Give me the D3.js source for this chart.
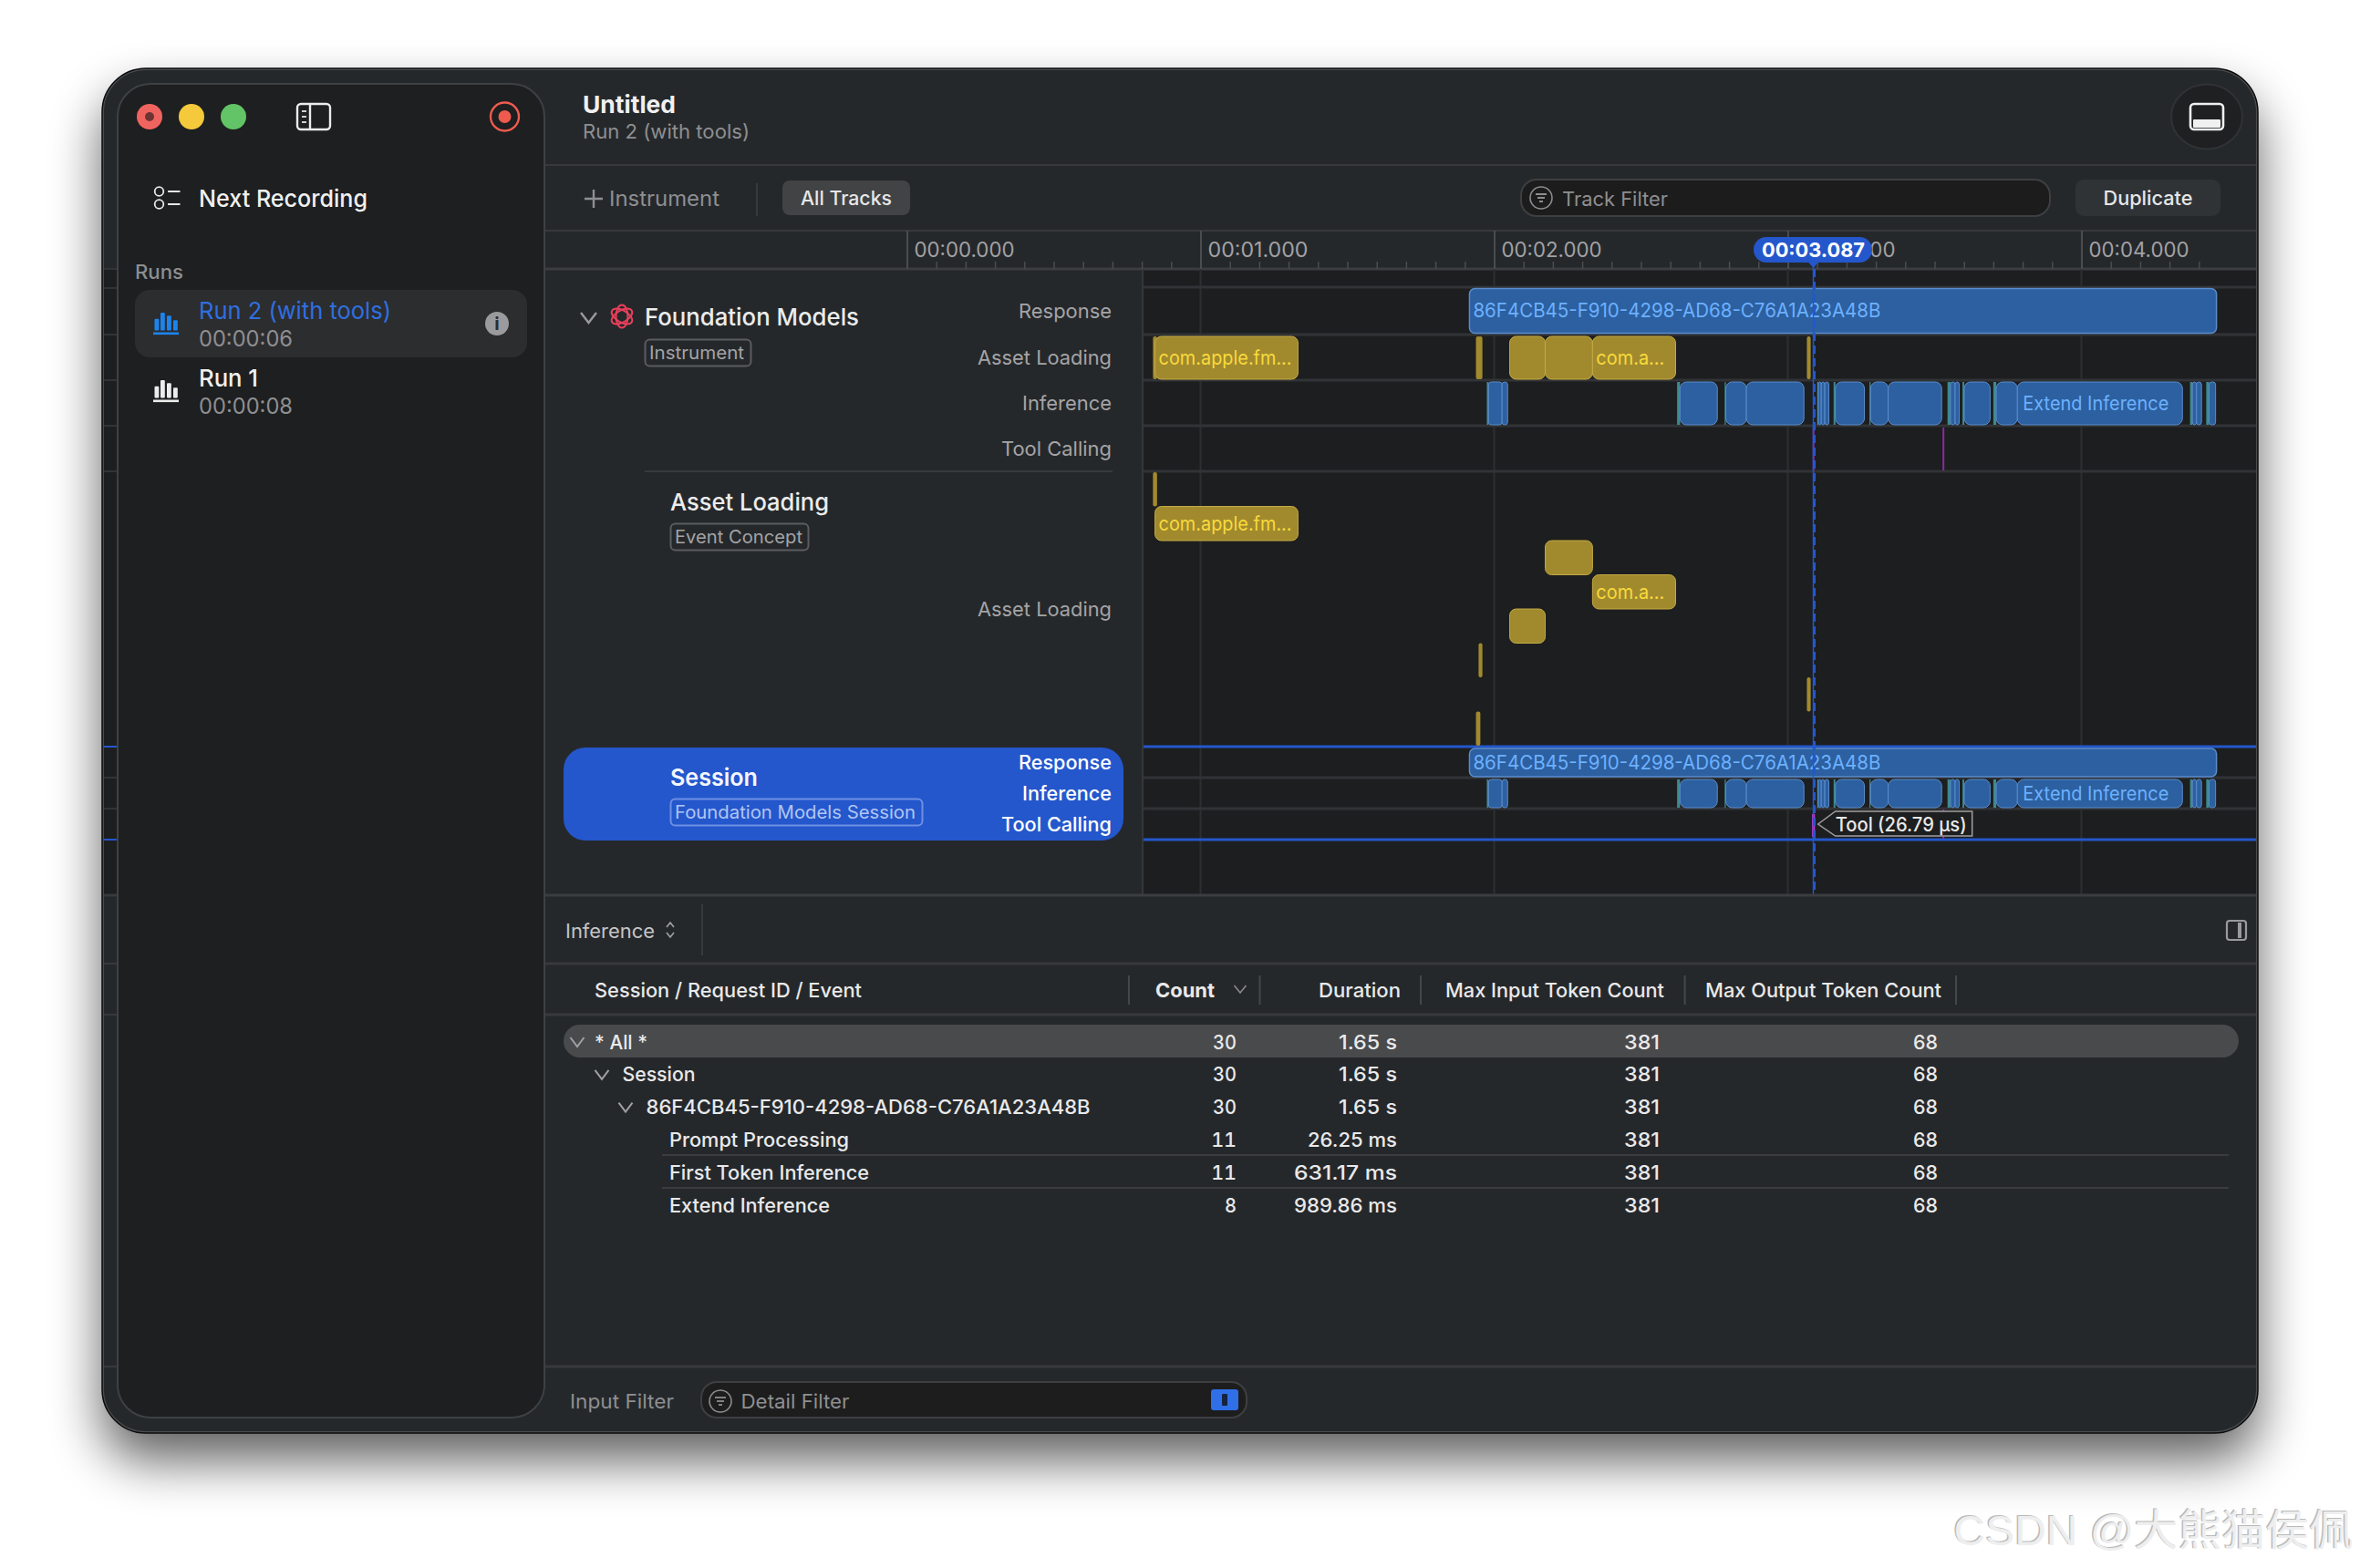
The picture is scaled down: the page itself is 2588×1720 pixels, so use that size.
<!DOCTYPE html>
<html><head><meta charset="utf-8">
<style>html,body{margin:0;padding:0;background:#fff}svg{display:block}text{font-family:Inter,"Noto Sans",sans-serif}</style>
<script src="https://cdn.jsdelivr.net/npm/d3@7"></script></head><body><div id="c"></div>
<script>
// ---------- DATA ----------
const majorSeconds = [0,1,2,3,4];
const minorSeconds = [.1,.2,.3,.4,.5,.6,.7,.8,.9,1.1,1.2,1.3,1.4,1.5,1.6,1.7,1.8,1.9,2.1,2.2,2.3,2.4,2.5,2.6,2.7,2.8,2.9,3.1,3.2,3.3,3.4,3.5,3.6,3.7,3.8,3.9,4.1,4.2,4.3,4.4];
const playheadTime = 3.087;
const playheadLabel = "00:03.087";
const responseSpan = [1.916, 4.460];
const responseLabel = "86F4CB45-F910-4298-AD68-C76A1A23A48B";
// asset loading: start, end, lane in the expanded track, label
const assetStart = [0.838, 0.845, 1.947, 2.053, 2.174, 2.335, 3.065, 1.938];
const assetEnd   = [0.852, 1.332, 1.960, 2.174, 2.335, 2.618, 3.078, 1.953];
const assetLane  = [0, 1, 5, 4, 2, 3, 6, 7];
const assetText  = ["", "com.apple.fm...", "", "", "", "com.a...", "", ""];
// inference events: start, end, kind
const infStart = [1.975,1.981,2.027,2.623,2.633,2.785,2.789,2.859,3.100,3.104,3.114,3.126,3.156,3.162,3.278,3.282,3.342,3.544,3.554,3.570,3.595,3.601,3.700,3.710,3.782,4.370,4.378,4.392,4.425,4.435];
const infEnd   = [1.981,2.027,2.046,2.633,2.760,2.789,2.859,3.055,3.104,3.114,3.126,3.140,3.162,3.261,3.282,3.342,3.524,3.554,3.570,3.584,3.601,3.689,3.710,3.782,4.344,4.378,4.392,4.409,4.435,4.457];
const infKind  = ["p","f","e","p","f","p","f","e","p","f","e","e","p","f","p","f","e","p","f","e","p","f","p","f","e","p","f","e","p","f"];
const extendLabelIndex = 24;
const extendLabel = "Extend Inference";
const toolCalls = [3.0875, 3.530];
const toolTip = "Tool (26.79 µs)";
// table
const tableNames = ["* All *","Session","86F4CB45-F910-4298-AD68-C76A1A23A48B","Prompt Processing","First Token Inference","Extend Inference"];
const tableDepth = [0,1,2,3,3,3];
const tableCount = [30,30,30,11,11,8];
const tableDuration = ["1.65 s","1.65 s","1.65 s","26.25 ms","631.17 ms","989.86 ms"];
const tableInput = [381,381,381,381,381,381];
const tableOutput = [68,68,68,68,68,68];

// ---------- SCALES ----------
const x = d3.scaleLinear().domain([0,4]).range([994.5,2282.5]);
const laneY = d3.scaleLinear().domain([0,8]).range([518,818]);
const rowY = d3.scaleLinear().domain([0,5]).range([1143,1322]);

// ---------- STYLE ----------
const nameWidth = [58,80,487,197,219,176];
const countWidth = [26,26,26,0,0,13];
const durationWidth = [64,64,64,98,113,113];
const C = {win:"#25282b",side:"#1d1f20",track:"#1d1e1f",line:"#37393c",grid:"#2c2e30",blue:"#2457cc",bar:"#2c60a0",barS:"#5b8ccb",barT:"#6db0ff",teal:"#3d8a8f",gold:"#a18a2e",goldS:"#c4aa45",goldT:"#f8d93c",gray:"#9c9c9e",text:"#e9e9ea"};

const svg = d3.select("#c").append("svg").attr("width",2588).attr("height",1720).attr("viewBox","0 0 2588 1720");
const defs = svg.append("defs");
const blur = defs.append("filter").attr("id","sh").attr("filterUnits","userSpaceOnUse").attr("x",0).attr("y",0).attr("width",2588).attr("height",1720);
blur.append("feGaussianBlur").attr("stdDeviation",28);
defs.append("clipPath").attr("id","wclip").append("rect").attr("x",112).attr("y",75).attr("width",2364).attr("height",1497).attr("rx",48);
defs.append("clipPath").attr("id","rclip").append("rect").attr("x",1253).attr("y",295).attr("width",1223).attr("height",687);

function T(g,s,px,py,o={}){
  const t=g.append("text").attr("x",px).attr("y",py).attr("dy",(o.size||22)*0.35).text(s)
    .attr("font-size",o.size||22).attr("font-weight",o.weight||400).attr("fill",o.fill||C.text);
  if(o.anchor)t.attr("text-anchor",o.anchor);
  if(o.w)t.attr("textLength",o.w).attr("lengthAdjust","spacingAndGlyphs");
  if(o.family)t.attr("style","font-family:"+o.family);
  return t;
}
function R(g,px,py,w,h,rx,fill,stroke,sw){
  return g.append("rect").attr("x",px).attr("y",py).attr("width",w).attr("height",h).attr("rx",rx||0)
    .attr("fill",fill||"none").attr("stroke",stroke||"none").attr("stroke-width",sw||0);
}
function H(g,x1,x2,py,col,sw){g.append("line").attr("x1",x1).attr("x2",x2).attr("y1",py).attr("y2",py).attr("stroke",col||C.line).attr("stroke-width",sw||2);}
function V(g,px,y1,y2,col,sw){g.append("line").attr("x1",px).attr("x2",px).attr("y1",y1).attr("y2",y2).attr("stroke",col||C.line).attr("stroke-width",sw||2);}
function chevron(g,cx,cy,w,h,col,sw){g.append("path").attr("d",`M${cx-w/2},${cy-h/2}L${cx},${cy+h/2}L${cx+w/2},${cy-h/2}`).attr("fill","none").attr("stroke",col).attr("stroke-width",sw||2);}
function filterIcon(g,cx,cy){
  g.append("circle").attr("cx",cx).attr("cy",cy).attr("r",12).attr("fill","none").attr("stroke","#8d8d8f").attr("stroke-width",1.6);
  [[6,-4],[4,0],[2,4]].forEach(d=>H(g,cx-d[0],cx+d[0],cy+d[1],"#8d8d8f",1.8));
}
function barsIcon(g,px,py,col){
  [[1.5,6.7],[8,0],[15,3.3],[22,8.3]].forEach(b=>R(g,px+b[0],py+b[1],4.8,19.5-b[1],1,col));
  R(g,px,py+21.5,28,2.6,0,col);
}

// ---------- WINDOW ----------
R(svg,112,75,2364,1497,48,"#000").attr("opacity",.62).attr("transform","translate(0,30)").attr("filter","url(#sh)");
const win = svg.append("g").attr("clip-path","url(#wclip)");
R(win,112,75,2364,1497,0,C.win);

// left glass strip behind the sidebar
R(win,112,295,1141,687,0,C.track);
[295,316,367,417,467,517,853,887].forEach(y=>H(win,112,132,y,"#313336",2));
[819,921].forEach(y=>H(win,112,132,y,C.blue,2));
H(win,112,132,982,C.line,3);
[1057,1113,1499].forEach(y=>H(win,112,132,y,C.line,2));

// main panels
R(win,597,295,656,687,0,C.win);
R(win,1253,295,1223,687,0,C.track);
[181,253].forEach(y=>H(win,597,2476,y));
H(win,597,2476,295,"#3b3d40",3);

// ---------- HEADER ----------
T(win,"Untitled",639,115,{size:26,weight:700,w:102,fill:"#f0f0f0"});
T(win,"Run 2 (with tools)",639,144,{size:22,fill:"#8e8f91",w:183});
win.append("ellipse").attr("cx",2420).attr("cy",128).attr("rx",39).attr("ry",35.5).attr("fill","#1e2022").attr("stroke","#303235").attr("stroke-width",2);
R(win,2402,114,36,28,4,"none","#f0f0f0",2.6);
R(win,2405,131,30,9,1,"#f0f0f0");

// toolbar
H(win,641,661,218,"#8e8f91",2.4); V(win,651,208,228,"#8e8f91",2.4);
T(win,"Instrument",668,218,{size:22.5,fill:"#8e8f91",w:121});
V(win,830,201,237,"#37393c",2);
R(win,858,198,140,38,8,"#414345");
T(win,"All Tracks",928,217.5,{size:21,anchor:"middle",w:100,fill:"#e6e6e6",weight:500});
R(win,1668,197,580,40,17,"#1c1c1d","#3e3f41",2);
filterIcon(win,1690,217);
T(win,"Track Filter",1713,218,{size:21.5,fill:"#8e8f91",w:116});
R(win,2276,197,159,40,9,"#303336");
T(win,"Duplicate",2355.5,217,{size:21.5,anchor:"middle",w:98,fill:"#e6e6e6",weight:500});

// ---------- TIME RULER (d3 axes) ----------
const ruler = win.append("g").attr("transform","translate(0,253)")
  .call(d3.axisBottom(x).tickValues(majorSeconds).tickSize(42).tickFormat(d=>`00:0${d}.000`));
ruler.select(".domain").remove();
ruler.selectAll(".tick line").attr("stroke","#4a4c4f").attr("stroke-width",2);
ruler.selectAll(".tick text").attr("x",7.5).attr("y",21).attr("dy",".35em").attr("text-anchor","start")
  .attr("fill","#a2a2a4").attr("font-size",22.5).attr("textLength",110).attr("lengthAdjust","spacingAndGlyphs").style("font-family","Inter");
const minor = win.append("g").attr("transform","translate(0,295)")
  .call(d3.axisTop(x).tickValues(minorSeconds).tickSize(8).tickFormat(""));
minor.select(".domain").remove();
minor.selectAll(".tick line").attr("stroke","#4a4c4f").attr("stroke-width",1.5);

// ---------- TRACKS ----------
const tracks = win.append("g").attr("clip-path","url(#rclip)");
tracks.selectAll("line.g").data(majorSeconds).join("line").attr("class","g")
  .attr("x1",d=>x(d)).attr("x2",d=>x(d)).attr("y1",295).attr("y2",982).attr("stroke",C.grid).attr("stroke-width",2);
[315,367,417,467,517,853,887].forEach(y=>H(tracks,1253,2476,y,"#313336",3));
[819,921].forEach(y=>H(tracks,1253,2476,y,C.blue,3));
V(win,1253,295,982,"#35373a",2);

function drawResponse(y0,y1){
  R(tracks,x(responseSpan[0]),y0,x(responseSpan[1])-x(responseSpan[0]),y1-y0,6,C.bar,C.barS,1.5);
  T(tracks,responseLabel,x(responseSpan[0])+4,(y0+y1)/2,{size:21,fill:C.barT,w:447});
}
function drawInference(y0,y1){
  const idx=d3.range(infStart.length);
  tracks.append("g").selectAll("rect").data(idx).join("rect")
    .attr("x",i=>x(infStart[i])).attr("width",i=>x(infEnd[i])-x(infStart[i])).attr("y",y0).attr("height",y1-y0)
    .attr("rx",i=>infKind[i]=="p"?0:(x(infEnd[i])-x(infStart[i])>16?7:3))
    .attr("fill",i=>infKind[i]=="p"?C.teal:C.bar)
    .attr("stroke",i=>infKind[i]=="p"?"none":C.barS).attr("stroke-width",1);
  T(tracks,extendLabel,x(infStart[extendLabelIndex])+6,(y0+y1)/2,{size:21,fill:C.barT,w:160});
}
function goldBar(i,y0,y1){
  const w=x(assetEnd[i])-x(assetStart[i]);
  R(tracks,x(assetStart[i]),y0,w,y1-y0,w>12?7:2,C.gold,w>12?C.goldS:"none",1);
  if(assetText[i]) T(tracks,assetText[i],x(assetStart[i])+4,(y0+y1)/2,{size:21,fill:C.goldT,w:assetText[i].length>8?146:75});
}
drawResponse(316.5,365.5);
assetStart.forEach((_,i)=>goldBar(i,369,416));
drawInference(419,466);
toolCalls.forEach(t=>V(tracks,x(t),469,516,"#8d2aa0",2));

// expanded Asset Loading lanes
assetStart.forEach((_,i)=>{goldBar(i,laneY(assetLane[i]),laneY(assetLane[i]+1));});

// Session lanes
drawResponse(821,852);
drawInference(855,886);
V(tracks,x(toolCalls[1]),888,920,"#8d2aa0",2);
V(tracks,x(toolCalls[0]),893,918,"#e23be0",3);

// Playhead
const ph=x(playheadTime);
V(win,ph,293,982,C.blue,1.5);
win.append("line").attr("x1",ph+1).attr("x2",ph+1).attr("y1",295).attr("y2",982).attr("stroke",C.blue).attr("stroke-width",3).attr("stroke-dasharray","9,5");
win.append("path").attr("d",`M${ph-6},287L${ph},294L${ph+6},287Z`).attr("fill",C.blue);
R(win,ph-65.5,260,130,28,14,C.blue);
T(win,playheadLabel,ph,274,{size:22,weight:700,anchor:"middle",w:113,fill:"#fff"});

// Tool tooltip
const tt=x(toolCalls[0])+5;
win.append("path").attr("d",`M${tt},904L${tt+19},890H${tt+169}V917H${tt+19}Z`).attr("fill",C.track).attr("stroke","#a0a0a0").attr("stroke-width",1.5);
T(win,toolTip,tt+19,904.5,{size:21,w:144,fill:"#e8e8e8",weight:500});

// ---------- TRACK LABELS ----------
const L=win.append("g");
chevron(L,645.5,348.5,17,11,"#9a9a9c",2.4);
[0,60,120].forEach(a=>L.append("ellipse").attr("cx",0).attr("cy",0).attr("rx",12.5).attr("ry",6.5).attr("fill","none").attr("stroke","#e8405a").attr("stroke-width",2).attr("transform",`translate(682,347) rotate(${a+90})`));
T(L,"Foundation Models",707,348,{size:26,weight:500,w:235,fill:"#ececec"});
R(L,707.5,372.5,116,29,5,"none","#5a5c5f",2);
T(L,"Instrument",712,387,{size:19.5,w:104,fill:"#a4a4a6"});
["Response","Asset Loading","Inference","Tool Calling"].forEach((s,i)=>{
  T(L,s,1219,[341.5,392,442,492][i],{size:22,anchor:"end",fill:"#a4a4a6",w:[102,147,98,121][i]});
});
H(L,707,1220,517);
T(L,"Asset Loading",735,551,{size:26,weight:500,w:174,fill:"#ececec"});
R(L,735.5,574.5,151,29,5,"none","#5a5c5f",2);
T(L,"Event Concept",740,589,{size:19.5,w:140,fill:"#a4a4a6"});
T(L,"Asset Loading",1219,668,{size:22,anchor:"end",fill:"#a4a4a6",w:147});

R(L,618,820,614,102,24,C.blue);
T(L,"Session",735,853,{size:26,weight:600,w:96,fill:"#f4f6ff"});
R(L,735.5,876.5,276,29,5,"none","#6f8fe3",2);
T(L,"Foundation Models Session",740,891,{size:19.5,w:264,fill:"#b3c5f3"});
["Response","Inference","Tool Calling"].forEach((s,i)=>{
  T(L,s,1219,[836.5,870.5,904][i],{size:22,anchor:"end",fill:"#fff",w:[102,98,121][i],weight:500});
});

// ---------- DETAIL PANE ----------
H(win,597,2476,982,"#3b3d40",3);
const D=win.append("g");
[1057,1113].forEach(y=>H(D,597,2476,y,"#37393c",3));
T(D,"Inference",620,1021,{size:21.5,w:98,fill:"#c4c4c6"});
D.append("path").attr("d","M731,1017L735,1012L739,1017M731,1023L735,1028L739,1023").attr("fill","none").attr("stroke","#a2a2a4").attr("stroke-width",1.6);
V(D,770,992,1048,"#37393c",2);
R(D,2442,1010,21,21,3,"none","#9a9a9c",2.2);
V(D,2456,1012,1029,"#9a9a9c",4);

T(D,"Session / Request ID / Event",652,1086.5,{size:22,weight:500,w:293});
T(D,"Count",1267,1086.5,{size:22,weight:700,w:65});
chevron(D,1360,1085,13,8,"#8a8a8c",1.6);
T(D,"Duration",1536,1086.5,{size:22,weight:500,anchor:"end",w:90});
T(D,"Max Input Token Count",1585,1086.5,{size:22,weight:500,w:240});
T(D,"Max Output Token Count",1870,1086.5,{size:22,weight:500,w:259});
[1238,1381.5,1558,1847.6,2145].forEach(px=>V(D,px,1070,1102,"#45474a",2));

R(D,618,1124,1837,36,18,"#494a4b");
[1267,1303].forEach(y=>H(D,726,2444,y,"#3a3c3f",2));
tableNames.forEach((s,i)=>{
  const y=rowY(i);
  T(D,s,i==0?652:i==1?682.5:i==2?708.6:734,y,{size:21.5,w:nameWidth[i],weight:500});
  if(tableDepth[i]<3) chevron(D,[633,660,686][tableDepth[i]],y,15,10,"#a0a0a2",2);
  T(D,tableCount[i],1356,y,{size:21.5,anchor:"end",w:countWidth[i],weight:500}).style("font-variant-numeric","tabular-nums");
  T(D,tableDuration[i],1532,y,{size:21.5,anchor:"end",w:durationWidth[i],weight:500});
  T(D,tableInput[i],1820,y,{size:21.5,anchor:"end",w:39,weight:500});
  T(D,tableOutput[i],2125,y,{size:21.5,anchor:"end",w:27,weight:500});
});

// footer
H(D,597,2476,1499,"#37393c",3);
T(D,"Input Filter",625,1537,{size:21.5,fill:"#8e8f91",w:114});
R(D,769,1516,598,39,17,"#1d1d1e","#3e3f41",2);
filterIcon(D,790,1537);
T(D,"Detail Filter",812.5,1537,{size:21.5,fill:"#8e8f91",w:119});
R(D,1328,1524,30,23,3,"#2f6fe8");
R(D,1340,1529,6,13,1,"#15233f");

// ---------- SIDEBAR ----------
const S=win.append("g");
R(S,129,92,468,1463,36,C.side,"#3e4144",2);
[[164,"#f0645f"],[210,"#f4c93c"],[256,"#62c466"]].forEach(d=>S.append("ellipse").attr("cx",d[0]).attr("cy",128).attr("rx",14).attr("ry",14).attr("fill",d[1]));
S.append("circle").attr("cx",164).attr("cy",128).attr("r",5).attr("fill","#6b3532");
R(S,326,114,36,28,4,"none","#ececec",2.4); V(S,340,114,142,"#ececec",2.4);
[122,128,134].forEach(y=>H(S,331,336,y,"#cfcfcf",2));
S.append("circle").attr("cx",553.5).attr("cy",128).attr("r",15.5).attr("fill","none").attr("stroke","#ee5b4e").attr("stroke-width",2.4);
S.append("circle").attr("cx",553.5).attr("cy",128).attr("r",7).attr("fill","#ee5b4e");
[210,224].forEach(y=>{S.append("circle").attr("cx",174.5).attr("cy",y).attr("r",4.8).attr("fill","none").attr("stroke","#e6e6e6").attr("stroke-width",1.8);H(S,184,197.5,y,"#e6e6e6",2);});
T(S,"Next Recording",218,218,{size:26,weight:500,w:185,fill:"#f0f0f0"});
T(S,"Runs",148,298,{size:21.5,weight:500,fill:"#8d8e90",w:53});
R(S,148,318,430,74,16,"#2c2d2f");
barsIcon(S,168,343,"#1a85f0");
T(S,"Run 2 (with tools)",218,341,{size:26,fill:"#2f6fe0",w:211});
T(S,"00:00:06",218,371.5,{size:24,fill:"#8f8f91",w:103});
S.append("circle").attr("cx",545).attr("cy",355).attr("r",13).attr("fill","#9b9b9d");
T(S,"i",545,355,{size:20,weight:700,anchor:"middle",fill:"#2c2d2f"});
barsIcon(S,168,417,"#ececec");
T(S,"Run 1",218,415,{size:26,fill:"#f0f0f0",w:65,weight:500});
T(S,"00:00:08",218,445.5,{size:24,fill:"#8f8f91",w:103});

// window edge
R(svg,113,76,2362,1495,47,"none","#4a4d50",2);
R(svg,112,75,2364,1497,48,"none","#0b0b0b",1.5);

// ---------- WATERMARK ----------
const wmFam='"Liberation Sans","Noto Sans CJK SC",sans-serif';
T(svg,"CSDN @大熊猫侯佩",2141,1678,{size:47,fill:"#b9b9b9",w:438,family:wmFam});
T(svg,"CSDN @大熊猫侯佩",2142.5,1679,{size:47,fill:"#eeeeee",w:438,family:wmFam});
</script></body></html>
